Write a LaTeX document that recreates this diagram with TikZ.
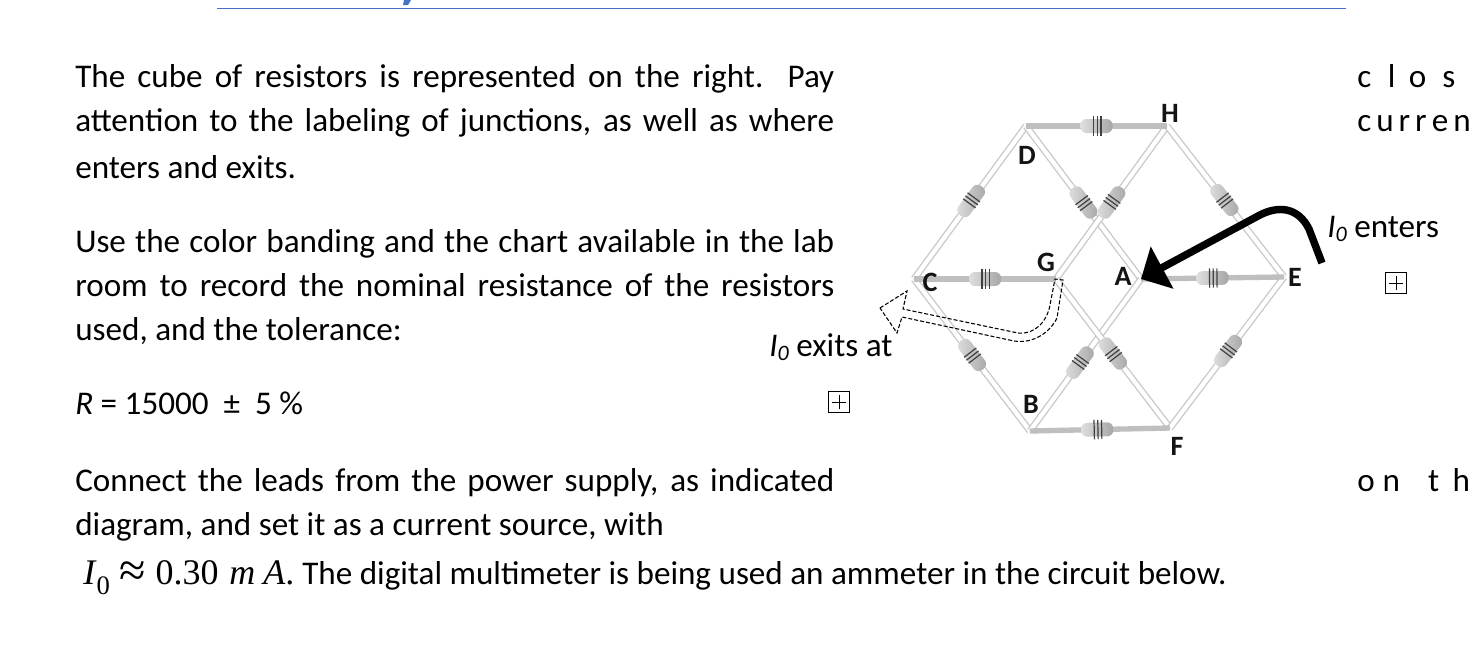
\documentclass[tikz,border=0pt]{standalone}
\usepackage{fontspec}
\setmainfont{Carlito}
\newfontfamily\mathserif{Liberation Serif}
\usetikzlibrary{arrows.meta,calc}
\definecolor{rulebl}{HTML}{4472C4}
\newcommand{\bodyline}[2]{\makebox[#1][s]{#2}}
\newcommand{\gp}{\hspace{3.75pt}}
\tikzset{
  x=0.75pt,y=-0.75pt,
  body/.style={anchor=base west,inner sep=0pt,font=\fontsize{24.85pt}{29pt}\selectfont},
  wire/.style={draw=gray!42,line width=1pt,double=white,double distance=3.2pt,line cap=butt},
  hwire/.style={draw=gray!50,line width=4pt,line cap=butt},
  res/.style={rectangle,rounded corners=4.5pt,minimum width=27pt,minimum height=10.5pt,inner sep=0pt,
    left color=gray!25,right color=gray!70,sloped},
  hres/.style={res,minimum width=24pt},
  vlabel/.style={inner sep=0pt,font=\fontsize{21pt}{23pt}\selectfont\bfseries,text=black!92},
  tick/.style={draw=black,line width=1pt,minimum size=15.5pt,inner sep=0pt,fill=white,
    path picture={
      \draw[black,line width=0.7pt] ([xshift=-5.5pt]path picture bounding box.center) -- ([xshift=5.5pt]path picture bounding box.center);
      \draw[black,line width=0.7pt] ([yshift=-5.5pt]path picture bounding box.center) -- ([yshift=5.5pt]path picture bounding box.center);
    }},
  dasharrow/.style={draw=black,line width=0.8pt,dash pattern=on 3pt off 1.5pt},
  bigarrow/.style={draw=black,line width=5.6pt,-{Triangle[length=18pt,width=35pt]}},
  band/.style={draw=black!75,line width=0.9pt}
}
\begin{document}
\begin{tikzpicture}
\useasboundingbox (0,0) rectangle (1472,658);
\clip (0,0) rectangle (1472,658);
\fill[white] (0,0) rectangle (1472,658);
% rule
\coordinate (ruleL) at (217,8.5);
\coordinate (ruleR) at (1346,8.5);
\draw[rulebl,line width=1.2pt] (ruleL) -- (ruleR);
\fill[rulebl] (404,0) -- (411,0) -- (408,5) -- (403,5) -- cycle;
% left text
\node[body] (t1) at (75,87) {\bodyline{569.25pt}{The cube of resistors is represented on the right.\ \ Pay}};
\node[body] (t2) at (75,131) {\bodyline{569.25pt}{attention to the labeling of junctions, as well as where}};
\node[body] (t3) at (75,178) {enters and exits.};
\node[body] (t4) at (75,252) {\bodyline{569.25pt}{Use the color banding and the chart available in the lab}};
\node[body] (t5) at (75,296) {\bodyline{569.25pt}{room to record the nominal resistance of the resistors}};
\node[body] (t6) at (75,340) {used, and the tolerance:};
\node[body] (t7) at (75,414) {\textit{R} = 15000\ \ ±\ \ 5 \%};
\node[body] (t8) at (75,491) {\bodyline{569.25pt}{Connect the leads from the power supply, as indicated}};
\node[body] (t9) at (75,535) {diagram, and set it as a current source, with};
\node[body,font=\fontsize{27pt}{30pt}\mathserif] (t10a) at (83,584) {\textit{I}\raisebox{-7.5pt}{\fontsize{20pt}{22pt}\selectfont 0}\hspace{7pt}\raisebox{-2pt}{\fontsize{36pt}{38pt}\selectfont ≈}\hspace{7.5pt}0.30\hspace{8pt}\textit{m}\hspace{6pt}\textit{A}.};
\node[body] (t10b) at (302,584) {The digital multimeter is being used an ammeter in the circuit below.};
% right text, cut by the picture's edge
\node[body] (r1) at (1357,87) {c\hspace{12.5pt}l\hspace{10pt}o\hspace{12pt}s};
\node[body] (r2) at (1357,131) {c\gp u\gp r\gp r\gp e\gp n};
\node[body] (r3) at (1357,491) {o\hspace{6pt}n\hspace{21pt}t\hspace{10pt}h};
% cube
\coordinate (C) at (914,279);
\coordinate (D) at (1026,126);
\coordinate (H) at (1167,126);
\coordinate (G) at (1056,279);
\coordinate (A) at (1141,279);
\coordinate (E) at (1284,277);
\coordinate (B) at (1030,431);
\coordinate (F) at (1170,428);
\draw[wire] (C) -- (D) node[res,pos=.51] (rCD) {};
\draw[wire] (D) -- (A) node[res,pos=.5] (rDA) {};
\draw[wire] (H) -- (G) node[res,pos=.5] (rHG) {};
\draw[wire] (H) -- (E) node[res,pos=.49] (rHE) {};
\draw[wire] (C) -- (B) node[res,pos=.5] (rCB) {};
\draw[wire] (A) -- (B) node[res,pos=.55] (rAB) {};
\draw[wire] (G) -- (F) node[res,pos=.5] (rGF) {};
\draw[wire] (E) -- (F) node[res,pos=.49] (rEF) {};
\draw[hwire] (D) -- (H) node[hres,pos=.5] (rDH) {};
\draw[hwire] (C) -- (G) node[hres,pos=.5] (rCG) {};
\draw[hwire] (A) -- (E) node[hres,pos=.5] (rAE) {};
\draw[hwire] (B) -- (F) node[hres,pos=.48] (rBF) {};
\foreach \r in {rCD,rDA,rHG,rHE,rCB,rAB,rGF,rEF,rDH,rCG,rAE,rBF}{
  \foreach \t in {.42,.52,.62}{
    \draw[band] ($(\r.south west)!\t!(\r.south east)$) -- ($(\r.north west)!\t!(\r.north east)$);
  }
}
% vertex labels
\node[vlabel] (lD) at (1027,155) {D};
\node[vlabel] (lH) at (1170,113) {H};
\node[vlabel] (lG) at (1046,262) {G};
\node[vlabel] (lA) at (1123,276) {A};
\node[vlabel] (lC) at (930,282) {C};
\node[vlabel] (lE) at (1295,277) {E};
\node[vlabel] (lB) at (1031,404) {B};
\node[vlabel] (lF) at (1177,446) {F};
% current labels
\node[body] (enter) at (1327,237) {\textit{I}{\fontsize{16.5pt}{18pt}\selectfont\raisebox{-0.2em}{\textit{0}}} enters};
\node[body] (exit) at (769,356) {\textit{I}{\fontsize{16.5pt}{18pt}\selectfont\raisebox{-0.2em}{\textit{0}}} exits at};
% big arrow
\coordinate (in) at (1322,263);
\draw[bigarrow] (in) -- (1309,229) .. controls (1298,207) and (1278,205) .. (1258,216) -- (A);
% dashed arrow
\coordinate (outtip) at (880,308);
\draw[dasharrow] (outtip) -- (907,291) -- (903,309) -- (1018,333)
  .. controls (1034,335) and (1047,322) .. (1050,305) -- (1055,279) -- (1063,280) -- (1057,318)
  .. controls (1050,332) and (1034,344) .. (1014,341) -- (902,317) -- (897,333) -- cycle;
% tick boxes
\node[tick] (box1) at (1396,283) {};
\node[tick] (box2) at (839,402) {};
\end{tikzpicture}
\end{document}
